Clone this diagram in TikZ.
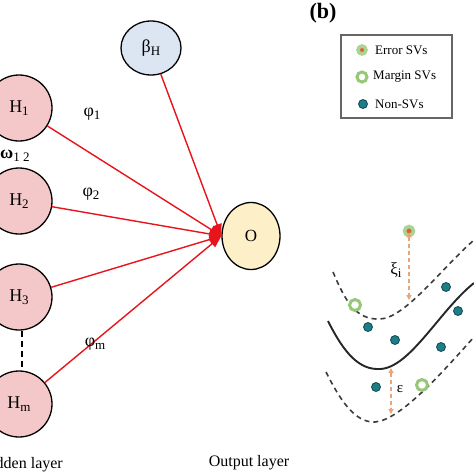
\documentclass[tikz,border=0pt]{standalone}
\usepackage{fontspec}
\setmainfont{Liberation Serif}
\usetikzlibrary{arrows.meta,shapes.geometric}
\definecolor{hpink}{RGB}{244,200,200}
\definecolor{bblue}{RGB}{220,230,243}
\definecolor{oyel}{RGB}{253,240,200}
\definecolor{ared}{RGB}{232,20,28}
\definecolor{svteal}{RGB}{30,125,135}
\definecolor{svgreen}{RGB}{150,200,120}
\definecolor{svorange}{RGB}{225,95,55}
\definecolor{arrorange}{RGB}{232,165,120}
\definecolor{curvegray}{RGB}{60,60,60}
\newcommand{\mysub}[1]{\raisebox{-0.35ex}{\fontsize{13}{14}\selectfont #1}}
\begin{document}
\begin{tikzpicture}[x=1pt,y=-1pt,
  hnode/.style={circle,draw=black,line width=1.3pt,fill=hpink,minimum size=66pt,inner sep=0pt,font=\fontsize{18}{20}\selectfont},
  bnode/.style={ellipse,draw=black,line width=1.3pt,fill=bblue,minimum width=60pt,minimum height=54pt,inner sep=0pt,font=\fontsize{18}{20}\selectfont},
  onode/.style={ellipse,draw=black,line width=1.3pt,fill=oyel,minimum width=58pt,minimum height=67pt,inner sep=0pt,font=\fontsize{17}{20}\selectfont},
  redarrow/.style={draw=ared,line width=1.4pt,-{Triangle[length=12pt,width=9pt]}},
  lab/.style={font=\fontsize{18}{20}\selectfont,inner sep=0pt},
  leglab/.style={font=\fontsize{13}{15}\selectfont,inner sep=0pt,anchor=west},
  nonsv/.style={circle,fill=svteal,draw=svteal!60!black,line width=0.8pt,minimum size=9pt,inner sep=0pt},
  marginsv/.style={circle,draw=svgreen,line width=3pt,fill=white,minimum size=10pt,inner sep=0pt},
  errorsv/.style={circle,draw=svgreen!80,line width=3.5pt,fill=svorange,minimum size=8pt,inner sep=0pt},
  orarrow/.style={draw=arrorange,line width=1.2pt,dash pattern=on 4pt off 3pt,{Triangle[length=5pt,width=5pt]}-{Triangle[length=5pt,width=5pt]}},
  margincurve/.style={draw=curvegray,line width=1.6pt,dash pattern=on 5pt off 4pt},
  sepcurve/.style={draw=black!85,line width=1.9pt}
]
\useasboundingbox (0,0) rectangle (474,474);
\fill[white] (0,0) rectangle (474,474);

% panel (a)
\node[hnode] (H1) at (19,108) {H\mysub{1}};
\node[hnode] (H2) at (19,201) {H\mysub{2}};
\node[hnode] (H3) at (19,297) {H\mysub{3}};
\node[hnode] (Hm) at (19,404) {H\mysub{m}};
\node[bnode] (B) at (151,48) {β\mysub{H}};
\node[onode] (O) at (251,236) {O};

\draw[line width=2.4pt,dash pattern=on 6pt off 4pt] ([xshift=3pt]H3.south) -- ([xshift=3pt]Hm.north);

\draw[redarrow] (H1) -- (O.west);
\draw[redarrow] (H2) -- (O.west);
\draw[redarrow] (H3) -- (O.west);
\draw[redarrow] (Hm) -- (O.west);
\draw[redarrow] (B) -- (O.west);

\node[lab] (p1) at (92,114) {φ\mysub{1}};
\node[lab] (p2) at (91,194) {φ\mysub{2}};
\node[lab] (pm) at (95,344) {φ\mysub{m}};
\node[lab,anchor=west] (w12) at (0,156) {\textbf{ω}\mysub{1 2}};

\node[font=\fontsize{16}{18}\selectfont,anchor=east,inner sep=0pt] (hid) at (63,465) {Hidden layer};
\node[font=\fontsize{16}{18}\selectfont,inner sep=0pt] (out) at (249,463) {Output layer};

% panel (b)
\node[font=\bfseries\fontsize{22}{24}\selectfont,inner sep=0pt] (blab) at (323,13) {(b)};

\node[draw=black!60,line width=1.2pt,minimum width=111pt,minimum height=83pt,inner sep=0pt] (legend) at (396.5,76.5) {};
\node[errorsv] (le) at (362,50) {};
\node[marginsv] (lm) at (362,77) {};
\node[nonsv] (ln) at (363,104) {};
\node[leglab] (lte) at (375,50) {Error SVs};
\node[leglab] (ltm) at (373,77) {Margin SVs};
\node[leglab] (ltn) at (375,104) {Non-SVs};

% curves
\draw[margincurve] (333,272) .. controls (345,300) and (355,320) .. (380,319) .. controls (405,318) and (440,270) .. (474,240);
\draw[sepcurve] (328,321) .. controls (345,355) and (360,370) .. (380,369) .. controls (410,368) and (440,310) .. (474,283);
\draw[margincurve] (326,372) .. controls (340,400) and (355,423) .. (375,422) .. controls (400,420) and (440,375) .. (474,337);

% points
\node[nonsv] (n1) at (446,287) {};
\node[nonsv] (n2) at (458,311) {};
\node[nonsv] (n3) at (368,327) {};
\node[nonsv] (n4) at (395,340) {};
\node[nonsv] (n5) at (441,347) {};
\node[nonsv] (n6) at (376,387) {};
\node[marginsv,minimum size=11pt] (m1) at (355,305) {};
\node[marginsv,minimum size=11pt] (m2) at (422,385) {};
\node[errorsv,minimum size=9pt] (e1) at (409,231) {};

\coordinate (xiend) at (409,300);
\coordinate (epstop) at (391,368);
\coordinate (epsbot) at (391,414);
\draw[orarrow] ([yshift=5pt]e1.south) -- (xiend);
\draw[orarrow] (epstop) -- (epsbot);
\node[lab,font=\fontsize{17}{19}\selectfont] (xi) at (396,270) {ξ\mysub{i}};
\node[lab,font=\fontsize{15}{17}\selectfont] (eps) at (400,389) {ε};
\end{tikzpicture}
\end{document}
